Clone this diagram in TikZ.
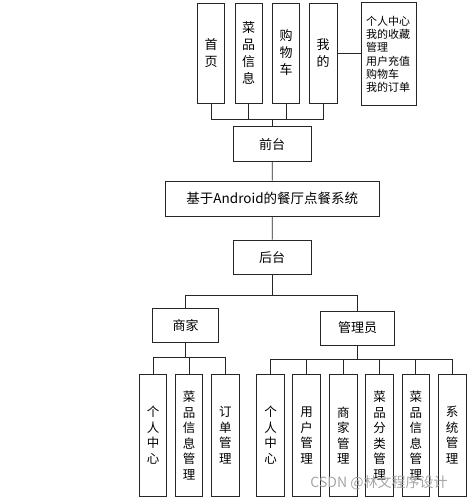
\documentclass[tikz,border=0pt]{standalone}
\usepackage{fontspec}
\setmainfont{Noto Sans CJK SC}
\begin{document}
\begin{tikzpicture}[x=1pt,y=-1pt,
  box/.style={draw=black!85, line width=0.8pt, fill=white, inner sep=0pt, align=center},
  topleaf/.style={box, minimum width=27.5pt, minimum height=100pt, font=\fontsize{13}{17}\selectfont},
  lowleaf/.style={box, minimum width=27.7pt, minimum height=122pt, font=\fontsize{12.5}{15.5}\selectfont},
  midbox/.style={box, font=\fontsize{13}{16}\selectfont},
  conn/.style={draw=black!85, line width=0.8pt}]
\useasboundingbox (0,0) rectangle (474,499);
\fill[white] (0,0) rectangle (474,499);
% top level
\node[topleaf] (t1) at (211,53) {首\\页};
\node[topleaf] (t2) at (248.7,53) {菜\\品\\信\\息};
\node[topleaf] (t3) at (286,53) {购\\物\\车};
\node[topleaf] (t4) at (323.2,53) {我\\的};
\node[box, minimum width=55pt, minimum height=103pt, text width=46pt, align=left,
      font=\fontsize{11}{13.3}\selectfont] (t5) at (389.2,54.3)
  {个人中心\\我的收藏\\管理\\用户充值\\购物车\\我的订单};
\node[midbox, minimum width=77.7pt, minimum height=35pt] (qt) at (272.2,144.2) {前台};
\node[midbox, minimum width=213.3pt, minimum height=35pt, font=\fontsize{13.5}{16}\selectfont] (main) at (272.3,198.5) {基于Android的餐厅点餐系统};
\node[midbox, minimum width=77.7pt, minimum height=34.7pt] (ht) at (272.2,257.3) {后台};
\node[midbox, minimum width=65.6pt, minimum height=34.4pt] (sj) at (185.5,325.5) {商家};
\node[midbox, minimum width=73.6pt, minimum height=34pt] (gly) at (357.5,328) {管理员};
% merchant leaves
\node[lowleaf] (l1) at (153,435.3) {个\\人\\中\\心};
\node[lowleaf] (l2) at (189,435.3) {菜\\品\\信\\息\\管\\理};
\node[lowleaf] (l3) at (225.3,435.3) {订\\单\\管\\理};
% admin leaves
\node[lowleaf] (a1) at (270.5,435.3) {个\\人\\中\\心};
\node[lowleaf] (a2) at (306.7,435.3) {用\\户\\管\\理};
\node[lowleaf] (a3) at (343.3,435.3) {商\\家\\管\\理};
\node[lowleaf] (a4) at (379.5,435.3) {菜\\品\\分\\类\\管\\理};
\node[lowleaf] (a5) at (415.8,435.3) {菜\\品\\信\\息\\管\\理};
\node[lowleaf] (a6) at (452.2,435.3) {系\\统\\管\\理};
% junctions
\coordinate (tj) at (272.2,119);
\coordinate (hj) at (272.2,295);
\coordinate (sjj) at (185.5,357);
\coordinate (gj) at (357.5,359);
% connectors
\foreach \n in {t1,t2,t3,t4} \draw[conn] (\n.south) |- (tj);
\draw[conn] (tj) -- (qt.north);
\draw[conn] (t4.east) -- (t4.east -| t5.west);
\draw[conn] (qt.south) -- (main.north);
\draw[conn] (main.south) -- (ht.north);
\draw[conn] (ht.south) -- (hj);
\draw[conn] (sj.north) |- (hj);
\draw[conn] (gly.north) |- (hj);
\draw[conn] (sj.south) -- (sjj);
\foreach \n in {l1,l2,l3} \draw[conn] (\n.north) |- (sjj);
\draw[conn] (gly.south) -- (gj);
\foreach \n in {a1,a2,a3,a4,a5,a6} \draw[conn] (\n.north) |- (gj);
% watermark
\node[text=black!35, font=\fontsize{14}{16}\selectfont, inner sep=0pt] (wm) at (379,482.7) {CSDN @林文程序设计};
\end{tikzpicture}
\end{document}
